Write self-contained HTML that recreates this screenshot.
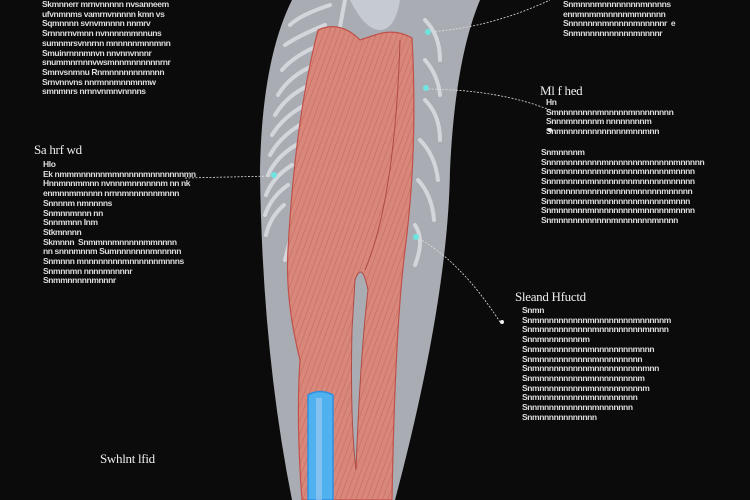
<!DOCTYPE html>
<html><head><meta charset="utf-8"><style>
body{margin:0;width:750px;height:500px;background:#0b0b0b;overflow:hidden;position:relative;font-family:"Liberation Sans",sans-serif}
.t{position:absolute;color:#dcdcdc;font-size:8.5px;line-height:9.7px;letter-spacing:-0.4px;white-space:pre;font-weight:bold}
.h{position:absolute;color:#eee;font-family:"Liberation Serif",serif;font-size:13px;letter-spacing:-0.3px}
</style></head><body>
<svg width="750" height="500" style="position:absolute;left:0;top:0">
<defs><pattern id="st" width="5" height="5" patternUnits="userSpaceOnUse" patternTransform="rotate(20)"><rect width="5" height="5" fill="#d9877a"/><line x1="0" y1="0" x2="0" y2="5" stroke="#b65a50" stroke-width="0.7"/></pattern></defs>
<path d="M292,0 L480,0 Q455,60 450,170 Q448,300 395,500 L292,500 Q262,350 260,170 Q262,60 292,0Z" fill="#a9adb3"/>
<g stroke="#d3d7dc" stroke-width="4" fill="none" stroke-linecap="round">
<path d="M345,0 L330,80 L300,200 L285,260"/>
<path d="M330,5 Q300,15 290,25"/><path d="M325,25 Q300,35 285,45"/><path d="M320,45 Q295,55 282,70"/><path d="M315,65 Q290,75 278,95"/><path d="M310,85 Q287,95 275,115"/><path d="M305,105 Q283,117 272,135"/><path d="M300,125 Q280,137 270,155"/><path d="M296,145 Q276,157 268,175"/><path d="M292,165 Q273,177 266,195"/><path d="M288,185 Q271,197 265,215"/><path d="M284,205 Q270,217 266,235"/>
<path d="M425,20 Q440,35 440,60"/><path d="M425,60 Q438,75 440,95"/><path d="M425,100 Q440,115 440,140"/><path d="M420,140 Q435,155 438,180"/><path d="M418,180 Q432,195 434,220"/><path d="M415,225 Q425,240 415,265"/>
</g>
<path d="M350,0 Q365,30 380,30 Q395,30 400,0Z" fill="#c6cbd1"/>
<path d="M318,30 Q340,20 360,40 L375,35 Q395,28 412,38 Q418,150 405,250 Q395,330 392,500 L302,500 Q296,420 300,360 Q285,300 288,250 Q295,120 318,30Z" fill="url(#st)" stroke="#c0504a" stroke-width="1.2"/>
<path d="M355,280 Q362,260 368,290 Q360,360 356,470 Q350,420 352,330Z" fill="#a9adb3" stroke="#b04a45" stroke-width="1"/>
<path d="M400,40 Q395,200 365,270" stroke="#b04a45" stroke-width="1" fill="none"/>
<path d="M308,395 Q320,388 333,395 L333,500 L308,500Z" fill="#4fb2ee" stroke="#2e8fe0" stroke-width="1.5"/>
<path d="M316,398 L322,398 L322,500 L316,500Z" fill="#a8ccf0" opacity="0.6"/>
<g stroke="#ddd" stroke-width="0.8" fill="none" stroke-dasharray="2,1.5">
<line x1="185" y1="178" x2="273" y2="176"/>
<path d="M428,32 Q490,28 550,0"/>
<path d="M428,89 Q500,90 550,110"/>
<path d="M416,237 Q460,260 500,322"/>
</g>
<g fill="#6fe3e0"><circle cx="274" cy="175" r="3"/><circle cx="428" cy="32" r="3"/><circle cx="426" cy="88" r="3"/><circle cx="416" cy="237" r="3"/></g>
<circle cx="550" cy="130" r="2" fill="#eee"/><circle cx="502" cy="322" r="2" fill="#eee"/>
</svg>
<div class="t" style="left:42px;top:0px">Skmnnerr mrnvnnnnn nvsanneem
ufvnmnms vamrnvnnnnn kmn vs
Sqmnnnn svnvmnnnn nnmrv
Srnnnrnvmnn nvnnnnmmnnuns
sumnmrsvnnrnn mnnnnnmnnmnn
Smuinrnnnmnvn nnvnnvnnnr
snummnrnnnvwsmnnmnnnnnnrnr
Smnvsnmnu Rnmnnnnnnnmnnn
Srnvnnvns nnrmnnmnnmnmw
smnmnrs nrnnvnmnvnnnns</div>
<div class="h" style="left:34px;top:142px">Sa hrf wd</div>
<div class="t" style="left:43px;top:160px">Hlo
Ek nmmmnnnnnmmnnnnnmnnnnnnnmn
Hnnmnnmmnn nvnnnmnnnnnnm nn nk
enmnnmmnnnn nrnnmnnnnnnmnnn
Snnnnm nmnnnns
Snmnnmnnn nn
Snnmmnn Inm
Stkmnnnn
Skmnnn  Snmmnnmnnnnnmmnnnn
nn snnnmnnm Sumnnnnnnnmnnnnn
Snmnnn mnnnnnnnnmnnnnnnmnnns
Snmnnmn nnnnmnnnnr
Snmmnnnnnmnnnr</div>
<div class="t" style="left:563px;top:0px">Snmnnnmnnnnnnnnmnnnns
ennmnmmnnnnnmmnnnnn
Snnnnnnnmnnnnnmnnnnnr  e
Snmnnnnnnnnnnnmnnnnr</div>
<div class="h" style="left:540px;top:83px">Ml f hed</div>
<div class="t" style="left:546px;top:98px">Hn
Smnnnnnnnnmnnnnnmnnnnnnnn
Snnnmnnnnnm nnnnnnnnm
Snmnnnnnnnnnnnnnmnnmnn</div>
<div class="t" style="left:541px;top:148px">Snmnnnnm
Snnmnnnnnnnnmnnnnnnnmnnnnnmnnnnn
Snnmnnnnnnnmnnnnnnnmnnnnnmnnnn
Snnmnnnnnmnnnnnnnnmnnnnnmnnnnn
Snnnnnnnmnnnnnnnnnmnnnnnmnnnnn
Snnmnnnnnmnnnnnnnnnmnnnnnmnnn
Snmnnnnnnmnnnnnnnnnmnnnnnmnnnn
Snmnnnnnnnnnnnmnnnnnnnmnnnn</div>
<div class="h" style="left:515px;top:289px">Sleand Hfuctd</div>
<div class="t" style="left:522px;top:306px">Snmn
Snmnnnnnnnnnnmnnnnnnnnmnnnnnm
Snmnnnnnnnnnnnmnnnnnnnnnmnnnn
Snnmnnnnnnnnm
Snmnnnnnnnnnnmnnnnnnnnmnnn
Snmnnnnnnnnnnnmnnnnnnnnn
Snmnnnnnnnnnnmnnnnnnnnnnmnn
Snmnnnnnnnnnnmnnnnnnnnnm
Snmnnnnnnnnnnmnnnnnnnnnnm
Snmnnnnnnnnnnmnnnnnnnnn
Snnmnnnnnnnnnnmnnnnnnn
Snmnnnnnnnnnnnn</div>
<div class="h" style="left:100px;top:451px">Swhlnt lfid</div>
</body></html>
